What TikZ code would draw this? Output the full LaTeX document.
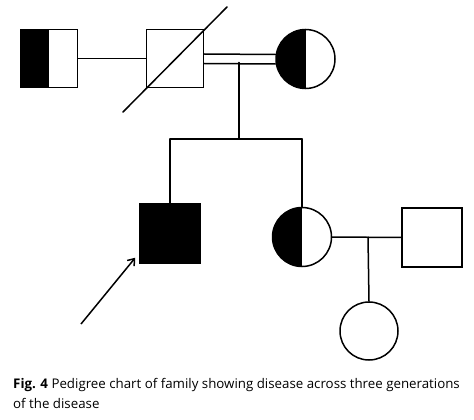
\documentclass[tikz,border=0pt]{standalone}
\usepackage{fontspec}
\setmainfont{Open Sans}
\usetikzlibrary{arrows.meta}
\begin{document}
\begin{tikzpicture}[x=1pt,y=-1pt,
  ln/.style={line width=1.5pt, line cap=round},
  male/.style={draw, line width=1.5pt, rectangle, minimum width=57pt, minimum height=58pt, inner sep=0pt},
  female/.style={draw, line width=1.5pt, circle, minimum size=59pt, inner sep=0pt},
  lefthalf/.style={path picture={\fill[black] (path picture bounding box.north west) rectangle (path picture bounding box.south);}},
  affected/.style={fill=black}]
\useasboundingbox (0,0) rectangle (474,420);
% generation I
\node[male, lefthalf] (m1) at (49,58.5) {};
\node[male] (m2) at (175,58.5) {};
\node[female, lefthalf] (f1) at (305.5,59) {};
\coordinate (d1) at (123,112);
\coordinate (d2) at (227,7);
\draw[ln] (d1) -- (d2);
\draw[ln] (m1.east) -- (m2.west);
\draw[ln] ([yshift=-5pt]m2.east) -- ([yshift=-5pt]f1.west);
\draw[ln] ([yshift=4.5pt]m2.east) coordinate (dl) -- ([yshift=4.5pt]f1.west);
\coordinate (c1) at (239,62.5);
\coordinate (c2) at (239,139);
\draw[ln] (c1) -- (c2);
% generation II
\node[male, affected, minimum width=60pt, minimum height=59pt] (p) at (170,233.5) {};
\node[female, lefthalf] (f2) at (302,237) {};
\node[male, minimum width=60pt, minimum height=59pt] (m3) at (432,237.5) {};
\coordinate (s1) at (170,139);
\coordinate (s2) at (302,139);
\draw[ln] (s1) -- (s2);
\draw[ln] (s1) -- (p.north);
\draw[ln] (s2) -- (f2.north);
\draw[ln] (f2.east) -- (m3.west);
\coordinate (c3) at (368,237);
% generation III
\node[female, minimum size=58pt] (f3) at (369,331) {};
\draw[ln] (c3) -- (f3.north);
% proband arrow
\coordinate (a1) at (81,324);
\draw[line width=1.5pt, -{Straight Barb[length=6pt,width=9pt]}] (a1) -- ([xshift=-4pt,yshift=6pt]p.south west);
% caption
\node[anchor=base west, inner sep=0pt, font=\fontsize{13.3}{16}\selectfont] (cap1) at (13,388) {\textbf{Fig. 4} Pedigree chart of family showing disease across three generations};
\node[anchor=base west, inner sep=0pt, font=\fontsize{13.3}{16}\selectfont] (cap2) at (13,408.5) {of the disease};
\end{tikzpicture}
\end{document}
